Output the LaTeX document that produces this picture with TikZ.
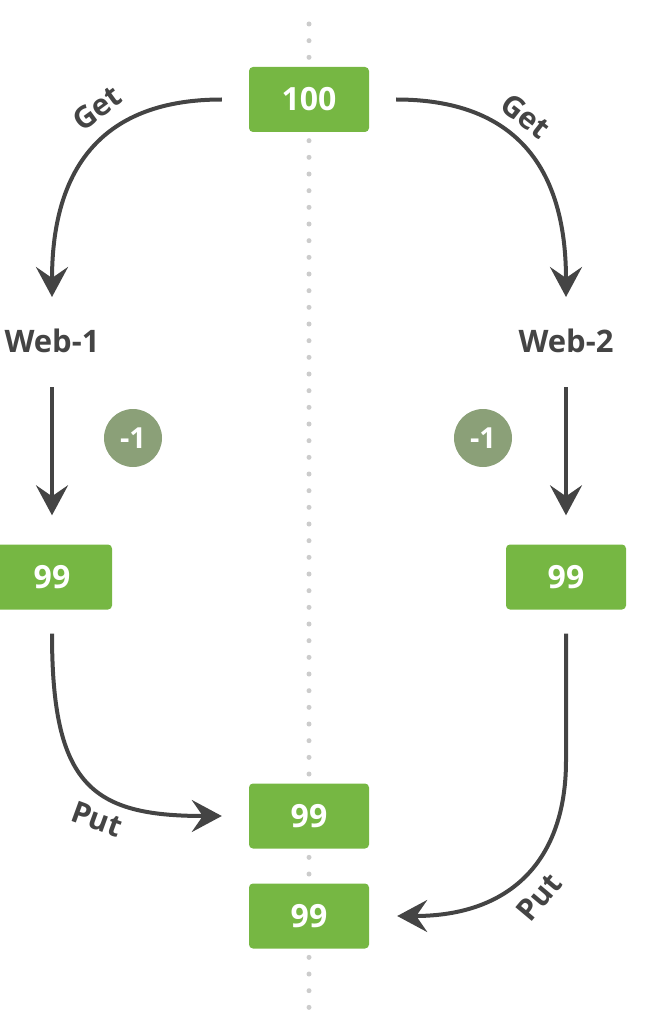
\documentclass[tikz,border=0pt]{standalone}
\usepackage{fontspec}
\setmainfont{Open Sans}
\usetikzlibrary{arrows.meta,calc}

\definecolor{valgreen}{RGB}{118,183,67}
\definecolor{stepgreen}{RGB}{139,160,120}
\definecolor{arrowgray}{RGB}{68,68,68}
\definecolor{dotgray}{RGB}{204,204,204}

\tikzset{
  val/.style={fill=valgreen, text=white, rounded corners=4pt, minimum width=120pt,
    minimum height=65pt, inner sep=0pt, font=\fontsize{32}{38}\selectfont\bfseries},
  delta/.style={circle, fill=stepgreen, text=white, minimum size=58pt, inner sep=0pt,
    font=\fontsize{29}{34}\selectfont\bfseries},
  web/.style={text=arrowgray, inner sep=0pt, font=\fontsize{31}{37}\selectfont\bfseries},
  op/.style={text=arrowgray, inner sep=0pt, font=\fontsize{30}{36}\selectfont\bfseries},
  flow/.style={draw=arrowgray, line width=4pt,
    -{Stealth[length=30pt, width=32pt, inset=11pt]}},
}

\begin{document}
\begin{tikzpicture}[x=1pt, y=1pt]
\useasboundingbox (0,0) rectangle (651,-1027);
% dotted middle line
\draw[dotgray, line width=5pt, line cap=round, dash pattern=on 0pt off 16.667pt]
  (309,-24) -- (309,-1010);

\node[val] (top) at (309,-99.5) {100};
\node[web] (web1) at (52,-341) {Web-1};
\node[web] (web2) at (566,-341) {Web-2};
\node[delta] (dec1) at (133,-438) {-1};
\node[delta] (dec2) at (483,-438) {-1};
\node[val] (new1) at (52,-577) {99};
\node[val] (new2) at (566,-577) {99};
\node[val] (put1) at (309,-816) {99};
\node[val] (put2) at (309,-916) {99};

% get
\draw[flow] ($(top.west)+(-27,0)$) .. controls +(-117,0) and +(0,132) .. ($(web1)+(0,44)$);
\draw[flow] ($(top.east)+(27,0)$) .. controls +(117,0) and +(0,132) .. ($(web2)+(0,44)$);
\node[op, rotate=36] (get1) at (97,-108) {Get};
\node[op, rotate=-38] (get2) at (526,-116) {Get};

% decrement
\draw[flow] ($(web1)+(0,-46)$) -- ($(new1.north)+(0,29)$);
\draw[flow] ($(web2)+(0,-46)$) -- ($(new2.north)+(0,29)$);

% put
\draw[flow] ($(new1.south)+(0,-24)$) .. controls +(0,-152) and +(-130,0) .. ($(put1.west)+(-27,0)$);
\draw[flow] ($(new2.south)+(0,-24)$) -- +(0,-127) .. controls +(0,-100) and +(113,0) .. ($(put2.east)+(28,0)$);
\node[op, rotate=-20] (putl1) at (97,-819) {Put};
\node[op, rotate=50] (putl2) at (539,-897) {Put};
\end{tikzpicture}
\end{document}
